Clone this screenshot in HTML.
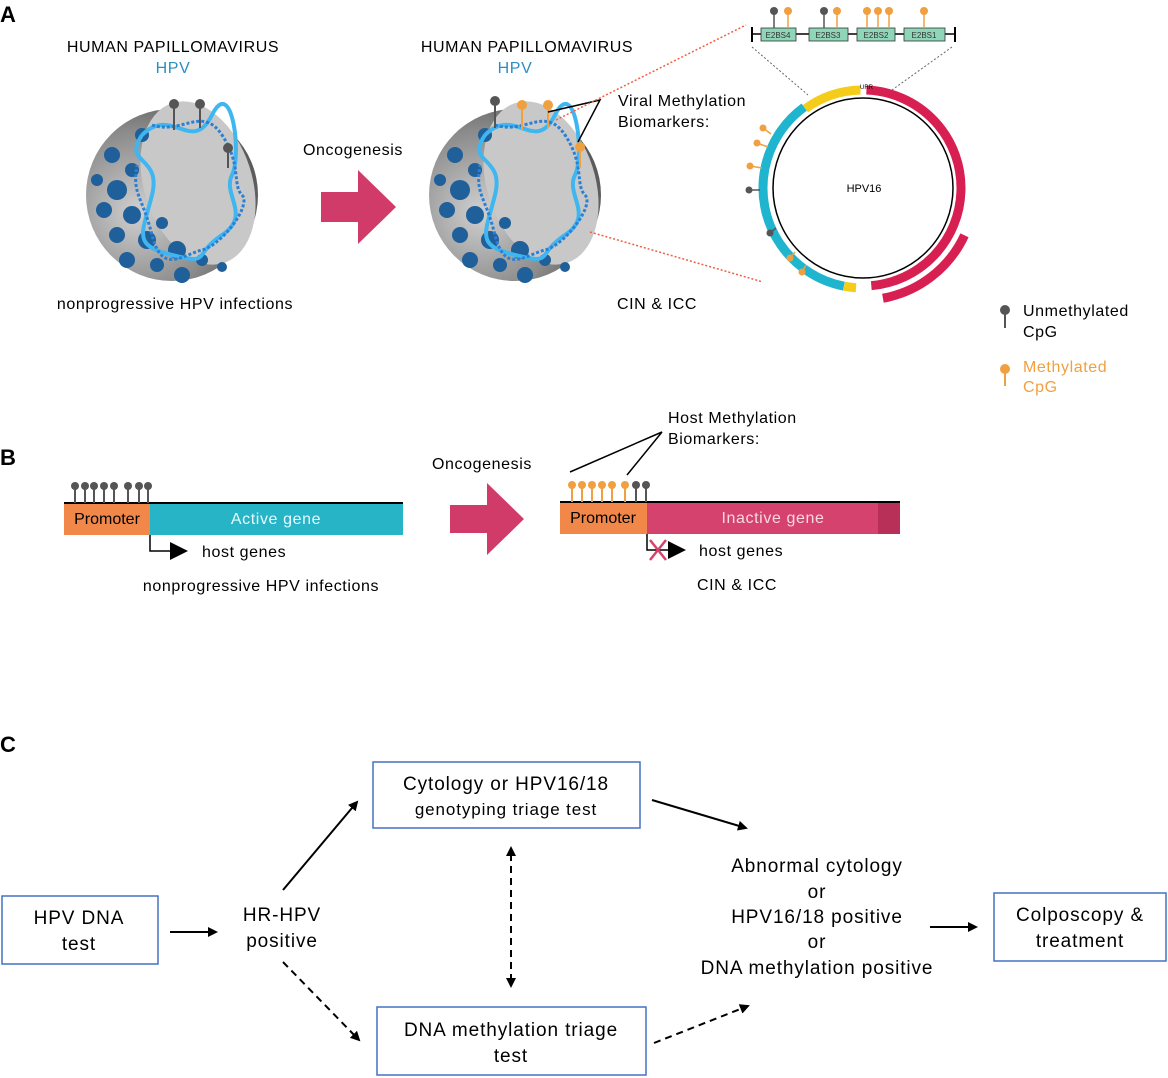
<!DOCTYPE html>
<html><head><meta charset="utf-8"><style>
html,body{margin:0;padding:0;background:#fff}
svg{display:block}
text{font-family:"Liberation Sans",sans-serif}
.ab text{letter-spacing:0.6px}
.c text{letter-spacing:0.9px}
</style></head><body>
<svg width="1168" height="1078" viewBox="0 0 1168 1078" xmlns="http://www.w3.org/2000/svg">
<defs>
<radialGradient id="sph" cx="0.3" cy="0.6" r="0.8">
<stop offset="0" stop-color="#d0d0d0"/><stop offset="0.6" stop-color="#8a8a8a"/><stop offset="1" stop-color="#4a4a4a"/>
</radialGradient>
<marker id="ah" markerWidth="10" markerHeight="10" refX="8" refY="5" orient="auto" markerUnits="userSpaceOnUse"><path d="M0,0 L10,5 L0,10 z" fill="#000"/></marker>
<marker id="ahs" markerWidth="10" markerHeight="10" refX="2" refY="5" orient="auto-start-reverse" markerUnits="userSpaceOnUse"><path d="M0,0 L10,5 L0,10 z" fill="#000"/></marker>
<g id="virus">
<circle cx="0" cy="0" r="86" fill="url(#sph)"/>
<ellipse cx="26" cy="-12" rx="54" ry="84" transform="rotate(-18 26 -12)" fill="#c8c8c8"/>
<g fill="#1f5f9a">
<circle cx="-60" cy="-40" r="8"/><circle cx="-55" cy="-5" r="10"/><circle cx="-68" cy="15" r="8"/><circle cx="-40" cy="20" r="9"/>
<circle cx="-55" cy="40" r="8"/><circle cx="-25" cy="45" r="9"/><circle cx="-45" cy="65" r="8"/><circle cx="-15" cy="70" r="7"/>
<circle cx="5" cy="55" r="9"/><circle cx="10" cy="80" r="8"/><circle cx="-30" cy="-60" r="7"/><circle cx="-75" cy="-15" r="6"/>
<circle cx="30" cy="65" r="6"/><circle cx="-10" cy="28" r="6"/><circle cx="-40" cy="-25" r="7"/><circle cx="50" cy="72" r="5"/>
</g>
<path d="M-30,-60 C0,-90 20,-40 40,-80 S70,-40 60,-20 S80,20 50,40 S40,70 0,60 S-30,40 -20,0 S-50,-30 -30,-60" fill="none" stroke="#3fb6f0" stroke-width="4"/>
<path d="M-20,-70 C10,-60 30,-90 50,-60 S60,-10 70,0 S50,50 30,55 S-10,80 -20,40 S-40,0 -35,-30" fill="none" stroke="#2b7fd4" stroke-width="3" stroke-dasharray="3 2"/>
</g>
</defs>

<g class="ab">
<!-- Panel A -->
<text x="0" y="22" font-size="22" font-weight="bold">A</text>
<text x="173" y="52" font-size="16" text-anchor="middle">HUMAN PAPILLOMAVIRUS</text>
<text x="173" y="73" font-size="16" text-anchor="middle" fill="#2a8fc0">HPV</text>
<use href="#virus" x="172" y="195"/>
<g stroke="#555" stroke-width="2"><line x1="174" y1="106" x2="174" y2="130"/><line x1="200" y1="106" x2="200" y2="128"/><line x1="228" y1="150" x2="228" y2="168"/></g>
<g fill="#555"><circle cx="174" cy="104" r="5"/><circle cx="200" cy="104" r="5"/><circle cx="228" cy="148" r="5"/></g>
<text x="175" y="309" font-size="16" text-anchor="middle">nonprogressive HPV infections</text>

<text x="353" y="155" font-size="16" text-anchor="middle">Oncogenesis</text>
<polygon points="321,192 358,192 358,170 396,207 358,244 358,222 321,222" fill="#d13b6a"/>

<text x="527" y="52" font-size="16" text-anchor="middle">HUMAN PAPILLOMAVIRUS</text>
<text x="515" y="73" font-size="16" text-anchor="middle" fill="#2a8fc0">HPV</text>
<use href="#virus" x="515" y="195"/>
<g stroke-width="2"><line x1="495" y1="104" x2="495" y2="128" stroke="#555"/><line x1="522" y1="108" x2="522" y2="130" stroke="#f0a040"/><line x1="548" y1="108" x2="548" y2="128" stroke="#f0a040"/><line x1="580" y1="150" x2="580" y2="168" stroke="#f0a040"/></g>
<circle cx="495" cy="101" r="5" fill="#555"/><circle cx="522" cy="105" r="5" fill="#f0a040"/><circle cx="548" cy="105" r="5" fill="#f0a040"/><circle cx="580" cy="147" r="5" fill="#f0a040"/>
<polyline points="548,112 600,100 578,142" fill="none" stroke="#000" stroke-width="1.5"/>
<text x="618" y="106" font-size="16">Viral Methylation</text>
<text x="618" y="127" font-size="16">Biomarkers:</text>
<text x="657" y="309" font-size="16" text-anchor="middle">CIN &amp; ICC</text>
<line x1="556" y1="120" x2="746" y2="25" stroke="#f06040" stroke-width="1.5" stroke-dasharray="2 2"/>
<line x1="590" y1="232" x2="763" y2="282" stroke="#f06040" stroke-width="1.5" stroke-dasharray="2 2"/>

<!-- top bar -->
<line x1="752" y1="34" x2="955" y2="34" stroke="#000" stroke-width="1.5"/>
<line x1="752" y1="27" x2="752" y2="42" stroke="#000" stroke-width="2"/>
<line x1="955" y1="27" x2="955" y2="42" stroke="#000" stroke-width="2"/>
<g fill="#8fd6b8" stroke="#333" stroke-width="0.8">
<rect x="761" y="28" width="35" height="13"/><rect x="809" y="28" width="39" height="13"/><rect x="857" y="28" width="38" height="13"/><rect x="904" y="28" width="41" height="13"/></g>
<g font-size="8" text-anchor="middle" fill="#333"><text x="778" y="38" style="letter-spacing:0">E2BS4</text><text x="828" y="38" style="letter-spacing:0">E2BS3</text><text x="876" y="38" style="letter-spacing:0">E2BS2</text><text x="924" y="38" style="letter-spacing:0">E2BS1</text></g>
<g stroke-width="1.5"><line x1="774" y1="12" x2="774" y2="28" stroke="#555"/><line x1="788" y1="12" x2="788" y2="28" stroke="#f0a040"/><line x1="824" y1="12" x2="824" y2="28" stroke="#555"/><line x1="837" y1="12" x2="837" y2="28" stroke="#f0a040"/><line x1="867" y1="12" x2="867" y2="28" stroke="#f0a040"/><line x1="878" y1="12" x2="878" y2="28" stroke="#f0a040"/><line x1="889" y1="12" x2="889" y2="28" stroke="#f0a040"/><line x1="924" y1="12" x2="924" y2="28" stroke="#f0a040"/></g>
<circle cx="774" cy="11" r="4" fill="#555"/><circle cx="788" cy="11" r="4" fill="#f0a040"/><circle cx="824" cy="11" r="4" fill="#555"/><circle cx="837" cy="11" r="4" fill="#f0a040"/><circle cx="867" cy="11" r="4" fill="#f0a040"/><circle cx="878" cy="11" r="4" fill="#f0a040"/><circle cx="889" cy="11" r="4" fill="#f0a040"/><circle cx="924" cy="11" r="4" fill="#f0a040"/>
<line x1="752" y1="47" x2="808" y2="95" stroke="#666" stroke-dasharray="2 2"/>
<line x1="952" y1="47" x2="885" y2="95" stroke="#666" stroke-dasharray="2 2"/>

<!-- HPV16 circle -->
<circle cx="863" cy="188" r="90" fill="none" stroke="#000" stroke-width="1.5"/>
<circle cx="863" cy="188" r="100" fill="none" stroke="#1fb5cf" stroke-width="9" stroke-dasharray="232 1000" transform="rotate(101 863 188)"/>
<circle cx="863" cy="188" r="98" fill="none" stroke="#f5cc1a" stroke-width="9" stroke-dasharray="59 1000" transform="rotate(234 863 188)"/>
<circle cx="863" cy="188" r="100" fill="none" stroke="#f5cc1a" stroke-width="9" stroke-dasharray="12 1000" transform="rotate(94 863 188)"/>
<circle cx="863" cy="188" r="98" fill="none" stroke="#d81f52" stroke-width="9" stroke-dasharray="296 1000" transform="rotate(272 863 188)"/>
<circle cx="863" cy="188" r="112" fill="none" stroke="#d81f52" stroke-width="9" stroke-dasharray="107 1000" transform="rotate(25 863 188)"/>
<text x="864" y="192" font-size="11" text-anchor="middle" style="letter-spacing:0">HPV16</text>
<text x="860" y="89" font-size="6" style="letter-spacing:0">URR</text>
<g stroke-width="1.5">
<line x1="771" y1="134" x2="763" y2="128" stroke="#f0a040"/><line x1="768" y1="147" x2="757" y2="143" stroke="#f0a040"/><line x1="762" y1="168" x2="750" y2="166" stroke="#f0a040"/><line x1="760" y1="190" x2="749" y2="190" stroke="#555"/><line x1="776" y1="228" x2="770" y2="233" stroke="#555"/><line x1="795" y1="252" x2="790" y2="258" stroke="#f0a040"/><line x1="806" y1="265" x2="802" y2="272" stroke="#f0a040"/></g>
<circle cx="763" cy="128" r="3.5" fill="#f0a040"/><circle cx="757" cy="143" r="3.5" fill="#f0a040"/><circle cx="750" cy="166" r="3.5" fill="#f0a040"/><circle cx="749" cy="190" r="3.5" fill="#555"/><circle cx="770" cy="233" r="3.5" fill="#555"/><circle cx="790" cy="258" r="3.5" fill="#f0a040"/><circle cx="802" cy="272" r="3.5" fill="#f0a040"/>

<!-- legend -->
<line x1="1005" y1="310" x2="1005" y2="328" stroke="#555" stroke-width="2"/><circle cx="1005" cy="310" r="5" fill="#555"/>
<text x="1023" y="316" font-size="16">Unmethylated</text><text x="1023" y="337" font-size="16">CpG</text>
<line x1="1005" y1="370" x2="1005" y2="386" stroke="#f0a040" stroke-width="2"/><circle cx="1005" cy="369" r="5" fill="#f0a040"/>
<text x="1023" y="372" font-size="16" fill="#f0a040">Methylated</text><text x="1023" y="392" font-size="16" fill="#f0a040">CpG</text>

<!-- Panel B -->
<text x="0" y="465" font-size="22" font-weight="bold">B</text>
<line x1="64" y1="503" x2="403" y2="503" stroke="#000" stroke-width="2"/>
<rect x="64" y="504" width="86" height="31" fill="#f2874a"/>
<rect x="150" y="504" width="253" height="31" fill="#26b4c6"/>
<text x="107" y="524" font-size="16" text-anchor="middle" style="letter-spacing:0">Promoter</text>
<text x="276" y="524" font-size="16" text-anchor="middle" fill="#e8fbff">Active gene</text>
<g stroke="#555" stroke-width="2"><line x1="75" y1="487" x2="75" y2="503"/><line x1="85" y1="487" x2="85" y2="503"/><line x1="94" y1="487" x2="94" y2="503"/><line x1="104" y1="487" x2="104" y2="503"/><line x1="114" y1="487" x2="114" y2="503"/><line x1="128" y1="487" x2="128" y2="503"/><line x1="139" y1="487" x2="139" y2="503"/><line x1="148" y1="487" x2="148" y2="503"/></g>
<g fill="#555"><circle cx="75" cy="486" r="4"/><circle cx="85" cy="486" r="4"/><circle cx="94" cy="486" r="4"/><circle cx="104" cy="486" r="4"/><circle cx="114" cy="486" r="4"/><circle cx="128" cy="486" r="4"/><circle cx="139" cy="486" r="4"/><circle cx="148" cy="486" r="4"/></g>
<polyline points="150,535 150,551 172,551" fill="none" stroke="#000" stroke-width="1.5"/>
<polygon points="170,542 188,551 170,560" fill="#000"/>
<text x="202" y="557" font-size="16">host genes</text>
<text x="261" y="591" font-size="16" text-anchor="middle">nonprogressive HPV infections</text>

<text x="482" y="469" font-size="16" text-anchor="middle">Oncogenesis</text>
<polygon points="450,505 487,505 487,483 524,519 487,555 487,533 450,533" fill="#d13b6a"/>

<text x="668" y="423" font-size="16">Host Methylation</text>
<text x="668" y="444" font-size="16">Biomarkers:</text>
<polyline points="570,472 662,432 627,475" fill="none" stroke="#000" stroke-width="1.5"/>
<line x1="560" y1="502" x2="900" y2="502" stroke="#000" stroke-width="2"/>
<rect x="560" y="503" width="87" height="31" fill="#f2874a"/>
<rect x="647" y="503" width="253" height="31" fill="#d6426e"/>
<rect x="878" y="503" width="22" height="31" fill="#b83058"/>
<text x="603" y="523" font-size="16" text-anchor="middle" style="letter-spacing:0">Promoter</text>
<text x="773" y="523" font-size="16" text-anchor="middle" fill="#f8d8e2">Inactive gene</text>
<g stroke-width="2" stroke="#f0a040"><line x1="572" y1="486" x2="572" y2="502"/><line x1="582" y1="486" x2="582" y2="502"/><line x1="592" y1="486" x2="592" y2="502"/><line x1="602" y1="486" x2="602" y2="502"/><line x1="612" y1="486" x2="612" y2="502"/><line x1="625" y1="486" x2="625" y2="502"/></g>
<g stroke-width="2" stroke="#555"><line x1="636" y1="486" x2="636" y2="502"/><line x1="646" y1="486" x2="646" y2="502"/></g>
<g fill="#f0a040"><circle cx="572" cy="485" r="4"/><circle cx="582" cy="485" r="4"/><circle cx="592" cy="485" r="4"/><circle cx="602" cy="485" r="4"/><circle cx="612" cy="485" r="4"/><circle cx="625" cy="485" r="4"/></g>
<circle cx="636" cy="485" r="4" fill="#555"/><circle cx="646" cy="485" r="4" fill="#555"/>
<polyline points="647,534 647,550 670,550" fill="none" stroke="#000" stroke-width="1.5"/>
<polygon points="668,541 686,550 668,559" fill="#000"/>
<g stroke="#d6426e" stroke-width="2.5"><line x1="650" y1="540" x2="666" y2="560"/><line x1="666" y1="540" x2="650" y2="560"/></g>
<text x="699" y="556" font-size="16">host genes</text>
<text x="737" y="590" font-size="16" text-anchor="middle">CIN &amp; ICC</text>
</g>

<!-- Panel C -->
<text x="0" y="752" font-size="22" font-weight="bold">C</text>
<g fill="none" stroke="#4472c4" stroke-width="1.5">
<rect x="2" y="896" width="156" height="68"/>
<rect x="373" y="762" width="267" height="66"/>
<rect x="377" y="1007" width="269" height="68"/>
<rect x="994" y="893" width="172" height="68"/>
</g>
<g class="c" font-size="19" text-anchor="middle">
<text x="79" y="924">HPV DNA</text><text x="79" y="950">test</text>
<text x="282" y="921">HR-HPV</text><text x="282" y="947">positive</text>
<text x="506" y="790">Cytology or HPV16/18</text><text x="506" y="815" font-size="17">genotyping triage test</text>
<text x="511" y="1036">DNA methylation triage</text><text x="511" y="1062">test</text>
<text x="817" y="872">Abnormal cytology</text><text x="817" y="898">or</text><text x="817" y="923">HPV16/18 positive</text><text x="817" y="948">or</text><text x="817" y="974">DNA methylation positive</text>
<text x="1080" y="921">Colposcopy &amp;</text><text x="1080" y="947">treatment</text>
</g>
<g stroke="#000" stroke-width="2" fill="none">
<line x1="170" y1="932" x2="216" y2="932" marker-end="url(#ah)"/>
<line x1="283" y1="890" x2="357" y2="802" marker-end="url(#ah)"/>
<line x1="283" y1="962" x2="359" y2="1040" stroke-dasharray="7 5" marker-end="url(#ah)"/>
<line x1="652" y1="800" x2="746" y2="828" marker-end="url(#ah)"/>
<line x1="654" y1="1043" x2="748" y2="1006" stroke-dasharray="7 5" marker-end="url(#ah)"/>
<line x1="511" y1="854" x2="511" y2="986" stroke-dasharray="7 5" marker-start="url(#ahs)" marker-end="url(#ah)"/>
<line x1="930" y1="927" x2="976" y2="927" marker-end="url(#ah)"/>
</g>
</svg>
</body></html>
